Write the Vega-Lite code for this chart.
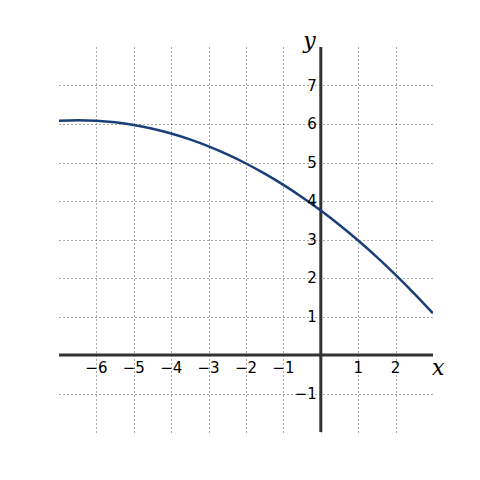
{
  "$schema": "https://vega.github.io/schema/vega-lite/v6.json",
  "width": 374,
  "height": 385,
  "autosize": "none",
  "padding": {"left": 59, "top": 47, "right": 47, "bottom": 48},
  "background": "white",
  "config": {"view": {"stroke": null}},
  "datasets": {
    "curve": [
      {"x": -7, "y": 6.086}, {"x": -6.5, "y": 6.1}, {"x": -6, "y": 6.086},
      {"x": -5.5, "y": 6.044}, {"x": -5, "y": 5.975}, {"x": -4.5, "y": 5.878},
      {"x": -4, "y": 5.753}, {"x": -3.5, "y": 5.6}, {"x": -3, "y": 5.419},
      {"x": -2.5, "y": 5.21}, {"x": -2, "y": 4.974}, {"x": -1.5, "y": 4.71},
      {"x": -1, "y": 4.418}, {"x": -0.5, "y": 4.098}, {"x": 0, "y": 3.751},
      {"x": 0.5, "y": 3.376}, {"x": 1, "y": 2.973}, {"x": 1.5, "y": 2.542},
      {"x": 2, "y": 2.083}, {"x": 2.5, "y": 1.596}, {"x": 3, "y": 1.082}
    ],
    "xlabels": [
      {"v": -6, "t": "−6"}, {"v": -5, "t": "−5"}, {"v": -4, "t": "−4"},
      {"v": -3, "t": "−3"}, {"v": -2, "t": "−2"}, {"v": -1, "t": "−1"},
      {"v": 1, "t": "1"}, {"v": 2, "t": "2"}
    ],
    "ylabels": [
      {"v": -1, "t": "−1"}, {"v": 1, "t": "1"}, {"v": 2, "t": "2"},
      {"v": 3, "t": "3"}, {"v": 4, "t": "4"}, {"v": 5, "t": "5"},
      {"v": 6, "t": "6"}, {"v": 7, "t": "7"}
    ],
    "one": [{}]
  },
  "layer": [
    {
      "data": {"name": "curve"},
      "mark": {"type": "line", "opacity": 0},
      "encoding": {
        "x": {"field": "x", "type": "quantitative",
          "scale": {"domain": [-7, 3], "nice": false, "zero": false},
          "axis": {"values": [-6, -5, -4, -3, -2, -1, 0, 1, 2], "grid": true, "gridDash": [1, 3], "gridColor": "#555", "gridWidth": 1, "gridOpacity": 1,
            "labels": false, "ticks": false, "domain": false, "title": null}},
        "y": {"field": "y", "type": "quantitative",
          "scale": {"domain": [-2, 8], "nice": false, "zero": false},
          "axis": {"values": [-1, 0, 1, 2, 3, 4, 5, 6, 7], "grid": true, "gridDash": [1, 3], "gridColor": "#555", "gridWidth": 1, "gridOpacity": 1,
            "labels": false, "ticks": false, "domain": false, "title": null}}
      }
    },
    {
      "data": {"name": "one"},
      "mark": {"type": "rule", "color": "#333333", "strokeWidth": 3},
      "encoding": {
        "x": {"datum": -7, "type": "quantitative"},
        "x2": {"datum": 3},
        "y": {"datum": 0, "type": "quantitative"}
      }
    },
    {
      "data": {"name": "one"},
      "mark": {"type": "rule", "color": "#333333", "strokeWidth": 3},
      "encoding": {
        "y": {"datum": -2, "type": "quantitative"},
        "y2": {"datum": 8},
        "x": {"datum": 0, "type": "quantitative"}
      }
    },
    {
      "data": {"name": "curve"},
      "mark": {"type": "line", "color": "#1a3f78", "strokeWidth": 2.5, "interpolate": "monotone", "clip": true},
      "encoding": {
        "x": {"field": "x", "type": "quantitative"},
        "y": {"field": "y", "type": "quantitative"}
      }
    },
    {
      "data": {"name": "xlabels"},
      "mark": {"type": "text", "font": "DejaVu Sans", "fontSize": 15, "baseline": "top", "align": "center", "dy": 6, "color": "#000"},
      "encoding": {
        "x": {"field": "v", "type": "quantitative"},
        "y": {"datum": 0, "type": "quantitative"},
        "text": {"field": "t"}
      }
    },
    {
      "data": {"name": "ylabels"},
      "mark": {"type": "text", "font": "DejaVu Sans", "fontSize": 15, "baseline": "middle", "align": "right", "dx": -4, "color": "#000"},
      "encoding": {
        "y": {"field": "v", "type": "quantitative"},
        "x": {"datum": 0, "type": "quantitative"},
        "text": {"field": "t"}
      }
    },
    {
      "data": {"name": "one"},
      "mark": {"type": "text", "font": "DejaVu Serif", "fontStyle": "italic", "fontSize": 22, "align": "left", "baseline": "middle", "dx": -1, "dy": 13, "text": "x"},
      "encoding": {
        "x": {"datum": 3, "type": "quantitative"},
        "y": {"datum": 0, "type": "quantitative"}
      }
    },
    {
      "data": {"name": "one"},
      "mark": {"type": "text", "font": "DejaVu Serif", "fontStyle": "italic", "fontSize": 22, "align": "right", "baseline": "bottom", "dx": -5, "dy": 6, "text": "y"},
      "encoding": {
        "x": {"datum": 0, "type": "quantitative"},
        "y": {"datum": 8, "type": "quantitative"}
      }
    }
  ]
}
